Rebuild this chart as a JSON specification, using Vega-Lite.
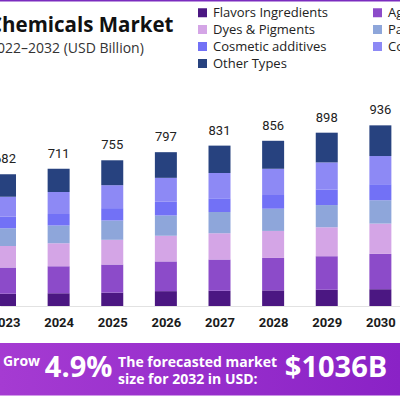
{
  "$schema": "https://vega.github.io/schema/vega-lite/v6.json",
  "width": 400,
  "height": 193,
  "autosize": {"type": "none"},
  "padding": {"top": 113, "left": 0, "right": 0, "bottom": 94},
  "background": "white",
  "title": {
    "text": "Chemicals Market",
    "subtitle": "2022–2032 (USD Billion)",
    "anchor": "start",
    "frame": "group",
    "dx": -11,
    "offset": -57,
    "font": "Open Sans",
    "fontSize": 20.5,
    "fontWeight": "bold",
    "color": "#111111",
    "subtitleFont": "Open Sans",
    "subtitleFontSize": 14,
    "subtitleColor": "#333333",
    "subtitlePadding": 5
  },
  "config": {"view": {"stroke": null}},
  "datasets": {
    "types": [
      {"type": "Flavors Ingredients", "rank": 1},
      {"type": "Agrochemicals", "rank": 2},
      {"type": "Dyes & Pigments", "rank": 3},
      {"type": "Paper Chemicals", "rank": 4},
      {"type": "Cosmetic additives", "rank": 5},
      {"type": "Construction Chemicals", "rank": 6},
      {"type": "Other Types", "rank": 7}
    ],
    "segments": [
      {"year": 2023, "type": "Flavors Ingredients", "value": 63},
      {"year": 2023, "type": "Agrochemicals", "value": 136},
      {"year": 2023, "type": "Dyes & Pigments", "value": 112},
      {"year": 2023, "type": "Paper Chemicals", "value": 92},
      {"year": 2023, "type": "Cosmetic additives", "value": 60},
      {"year": 2023, "type": "Construction Chemicals", "value": 103},
      {"year": 2023, "type": "Other Types", "value": 116},
      {"year": 2024, "type": "Flavors Ingredients", "value": 66},
      {"year": 2024, "type": "Agrochemicals", "value": 140},
      {"year": 2024, "type": "Dyes & Pigments", "value": 119},
      {"year": 2024, "type": "Paper Chemicals", "value": 92},
      {"year": 2024, "type": "Cosmetic additives", "value": 60},
      {"year": 2024, "type": "Construction Chemicals", "value": 114},
      {"year": 2024, "type": "Other Types", "value": 120},
      {"year": 2025, "type": "Flavors Ingredients", "value": 69},
      {"year": 2025, "type": "Agrochemicals", "value": 146},
      {"year": 2025, "type": "Dyes & Pigments", "value": 128},
      {"year": 2025, "type": "Paper Chemicals", "value": 100},
      {"year": 2025, "type": "Cosmetic additives", "value": 64},
      {"year": 2025, "type": "Construction Chemicals", "value": 119},
      {"year": 2025, "type": "Other Types", "value": 129},
      {"year": 2026, "type": "Flavors Ingredients", "value": 77},
      {"year": 2026, "type": "Agrochemicals", "value": 154},
      {"year": 2026, "type": "Dyes & Pigments", "value": 133},
      {"year": 2026, "type": "Paper Chemicals", "value": 105},
      {"year": 2026, "type": "Cosmetic additives", "value": 71},
      {"year": 2026, "type": "Construction Chemicals", "value": 124},
      {"year": 2026, "type": "Other Types", "value": 133},
      {"year": 2027, "type": "Flavors Ingredients", "value": 79},
      {"year": 2027, "type": "Agrochemicals", "value": 162},
      {"year": 2027, "type": "Dyes & Pigments", "value": 136},
      {"year": 2027, "type": "Paper Chemicals", "value": 110},
      {"year": 2027, "type": "Cosmetic additives", "value": 71},
      {"year": 2027, "type": "Construction Chemicals", "value": 131},
      {"year": 2027, "type": "Other Types", "value": 142},
      {"year": 2028, "type": "Flavors Ingredients", "value": 81},
      {"year": 2028, "type": "Agrochemicals", "value": 168},
      {"year": 2028, "type": "Dyes & Pigments", "value": 140},
      {"year": 2028, "type": "Paper Chemicals", "value": 115},
      {"year": 2028, "type": "Cosmetic additives", "value": 71},
      {"year": 2028, "type": "Construction Chemicals", "value": 136},
      {"year": 2028, "type": "Other Types", "value": 145},
      {"year": 2029, "type": "Flavors Ingredients", "value": 84},
      {"year": 2029, "type": "Agrochemicals", "value": 174},
      {"year": 2029, "type": "Dyes & Pigments", "value": 150},
      {"year": 2029, "type": "Paper Chemicals", "value": 115},
      {"year": 2029, "type": "Cosmetic additives", "value": 81},
      {"year": 2029, "type": "Construction Chemicals", "value": 140},
      {"year": 2029, "type": "Other Types", "value": 154},
      {"year": 2030, "type": "Flavors Ingredients", "value": 87},
      {"year": 2030, "type": "Agrochemicals", "value": 183},
      {"year": 2030, "type": "Dyes & Pigments", "value": 157},
      {"year": 2030, "type": "Paper Chemicals", "value": 121},
      {"year": 2030, "type": "Cosmetic additives", "value": 83},
      {"year": 2030, "type": "Construction Chemicals", "value": 146},
      {"year": 2030, "type": "Other Types", "value": 159}
    ],
    "totals": [
      {"year": 2023, "total": 682},
      {"year": 2024, "total": 711},
      {"year": 2025, "total": 755},
      {"year": 2026, "total": 797},
      {"year": 2027, "total": 831},
      {"year": 2028, "total": 856},
      {"year": 2029, "total": 898},
      {"year": 2030, "total": 936}
    ],
    "banner": [
      {"part": "lead", "text": "The Market will Grow"},
      {"part": "cagr", "text": "4.9%"},
      {"part": "note1", "text": "The forecasted market"},
      {"part": "note2", "text": "size for 2032 in USD:"},
      {"part": "size", "text": "$1036B"}
    ]
  },
  "layer": [
    {
      "data": {"name": "segments"},
      "transform": [
        {"lookup": "type", "from": {"data": {"name": "types"}, "key": "type", "fields": ["rank"]}}
      ],
      "mark": {"type": "bar", "size": 22},
      "encoding": {
        "x": {
          "field": "year",
          "type": "quantitative",
          "scale": {"domain": [2022.9999, 2030.2727], "nice": false, "zero": false},
          "axis": {
            "values": [2023, 2024, 2025, 2026, 2027, 2028, 2029, 2030],
            "format": "d",
            "title": null,
            "grid": false,
            "ticks": false,
            "labelFlush": false,
            "labelOverlap": false,
            "labelBound": false,
            "labelFont": "Roboto",
            "labelFontSize": 13,
            "labelFontWeight": "bold",
            "labelColor": "#1a1a1a",
            "labelPadding": 10,
            "domainColor": "#e2e2e2",
            "domainWidth": 1
          }
        },
        "y": {
          "field": "value",
          "type": "quantitative",
          "stack": "zero",
          "scale": {"domain": [0, 1000], "nice": false},
          "axis": null
        },
        "order": {"field": "rank", "type": "quantitative", "sort": "ascending"},
        "color": {
          "field": "type",
          "type": "nominal",
          "scale": {
            "domain": ["Flavors Ingredients", "Dyes & Pigments", "Cosmetic additives", "Other Types", "Agrochemicals", "Paper Chemicals", "Construction Chemicals"],
            "range": ["#4b1782", "#d4a5e6", "#7271f6", "#27427f", "#8c4bc9", "#8ea6da", "#8d89f5"]
          },
          "legend": {
            "title": null,
            "orient": "none",
            "legendX": 196,
            "legendY": -107,
            "columns": 2,
            "columnPadding": 42,
            "rowPadding": 3,
            "symbolType": "square",
            "symbolSize": 81,
            "symbolStrokeWidth": 0,
            "labelFont": "Open Sans",
            "labelFontSize": 13,
            "labelColor": "#222222",
            "labelOffset": 4,
            "labelLimit": 300
          }
        }
      }
    },
    {
      "data": {"name": "totals"},
      "mark": {"type": "text", "baseline": "bottom", "dy": -8, "font": "Roboto", "fontSize": 13, "color": "#222222"},
      "encoding": {
        "x": {"field": "year", "type": "quantitative"},
        "y": {"field": "total", "type": "quantitative"},
        "text": {"field": "total", "type": "quantitative", "format": "d"}
      }
    },
    {
      "data": {"name": "banner"},
      "transform": [{"filter": "datum.part === 'size'"}],
      "mark": {"type": "rule", "color": "#7b2cbf", "strokeWidth": 3},
      "encoding": {"y": {"datum": 1585}}
    },
    {
      "data": {"name": "banner"},
      "transform": [{"filter": "datum.part === 'size'"}],
      "mark": {
        "type": "rect",
        "color": {
          "gradient": "linear",
          "x1": 0, "y1": 0, "x2": 1, "y2": 0,
          "stops": [
            {"offset": 0, "color": "#a53bd2"},
            {"offset": 1, "color": "#8a22c6"}
          ]
        }
      },
      "encoding": {"y": {"datum": -191.7}, "y2": {"datum": -463.7}}
    },
    {
      "data": {"name": "banner"},
      "transform": [{"filter": "datum.part === 'lead'"}],
      "mark": {"type": "text", "align": "right", "baseline": "middle", "font": "Open Sans", "fontSize": 14, "fontWeight": "bold", "color": "white"},
      "encoding": {"x": {"datum": 2023.6545}, "y": {"datum": -290.2}, "text": {"field": "text"}}
    },
    {
      "data": {"name": "banner"},
      "transform": [{"filter": "datum.part === 'cagr'"}],
      "mark": {"type": "text", "align": "center", "baseline": "middle", "font": "Open Sans", "fontSize": 29, "fontWeight": "bold", "color": "white"},
      "encoding": {"x": {"datum": 2024.3727}, "y": {"datum": -323.8}, "text": {"field": "text"}}
    },
    {
      "data": {"name": "banner"},
      "transform": [{"filter": "datum.part === 'note1'"}],
      "mark": {"type": "text", "align": "left", "baseline": "middle", "font": "Open Sans", "fontSize": 14, "fontWeight": "bold", "color": "white"},
      "encoding": {"x": {"datum": 2025.109}, "y": {"datum": -293.5}, "text": {"field": "text"}}
    },
    {
      "data": {"name": "banner"},
      "transform": [{"filter": "datum.part === 'note2'"}],
      "mark": {"type": "text", "align": "left", "baseline": "middle", "font": "Open Sans", "fontSize": 14, "fontWeight": "bold", "color": "white"},
      "encoding": {"x": {"datum": 2025.109}, "y": {"datum": -384.5}, "text": {"field": "text"}}
    },
    {
      "data": {"name": "banner"},
      "transform": [{"filter": "datum.part === 'size'"}],
      "mark": {"type": "text", "align": "center", "baseline": "middle", "font": "Open Sans", "fontSize": 29, "fontWeight": "bold", "color": "white"},
      "encoding": {"x": {"datum": 2029.1727}, "y": {"datum": -321.2}, "text": {"field": "text"}}
    }
  ]
}
